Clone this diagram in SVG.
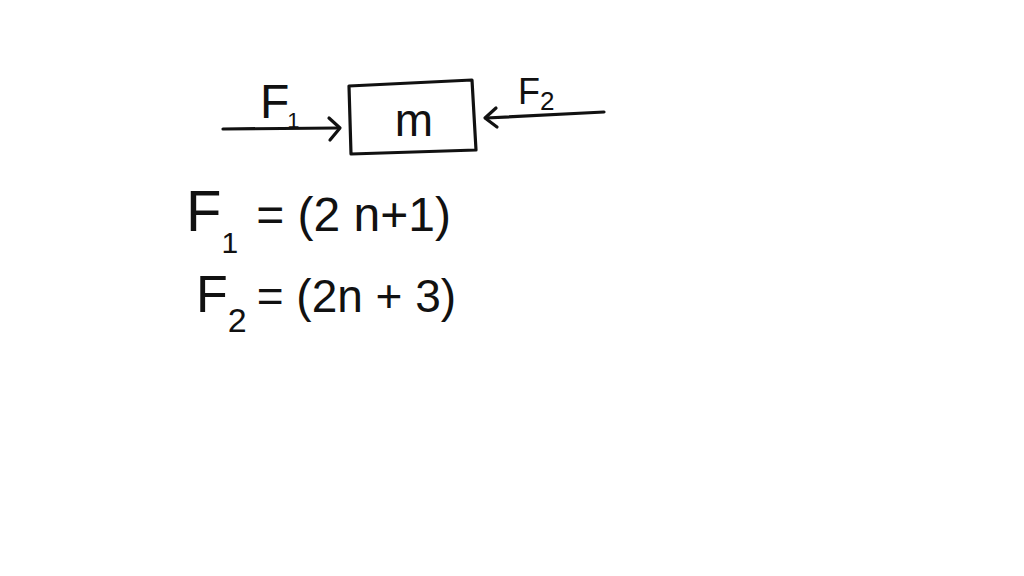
<svg xmlns="http://www.w3.org/2000/svg" width="1024" height="576" viewBox="0 0 1024 576">
<style>
.ink{fill:none;stroke:#111;stroke-width:3.2;stroke-linecap:round;stroke-linejoin:round}
.t{font-family:"Liberation Sans","DejaVu Sans",sans-serif;fill:#111}
</style>
<rect width="1024" height="576" fill="#fff"/>
<g id="block">
<path class="ink" d="M349,86 L472,80 L476,150 L351,154 Z"/>
<text class="t" x="414" y="136" font-size="46" text-anchor="middle">m</text>
</g>
<g id="connectors">
<g id="F1-arrow">
<path class="ink" d="M223,129 L338,128"/>
<path class="ink" d="M329,118 L340,128 L330,140"/>
</g>
<g id="F2-arrow">
<path class="ink" d="M604,112 L486,118"/>
<path class="ink" d="M496,108 L485,118 L497,127"/>
</g>
</g>
<g id="labels">
<text class="t" x="260" y="118" font-size="48">F<tspan font-size="22" dx="-2" dy="10">1</tspan></text>
<text class="t" x="518" y="104" font-size="36">F<tspan font-size="26" dy="6">2</tspan></text>
</g>
<g id="equations">
<text class="t" x="186" y="231" font-size="58">F<tspan font-size="30" dx="0" dy="22">1</tspan><tspan dx="18" dy="-22" font-size="48">= (2 n+1)</tspan></text>
<text class="t" x="196" y="312" font-size="52">F<tspan font-size="34" dy="20">2</tspan><tspan dx="10" dy="-20" font-size="46">= (2n + 3)</tspan></text>
</g>
</svg>
